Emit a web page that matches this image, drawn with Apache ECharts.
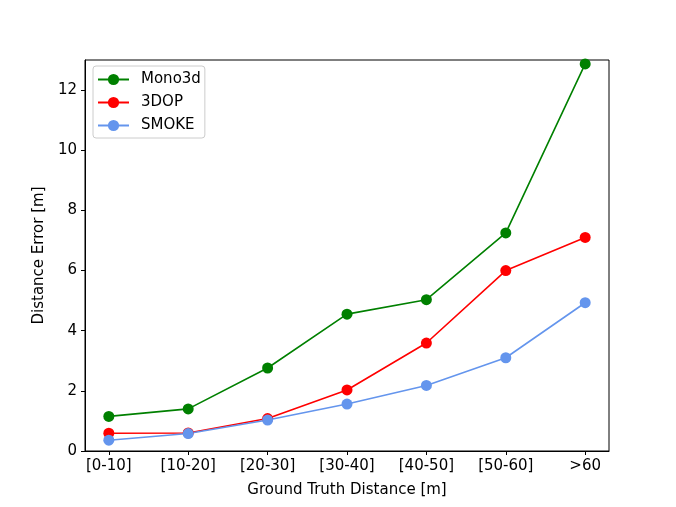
<!DOCTYPE html>
<html>
<head>
<meta charset="utf-8">
<script src="https://cdn.jsdelivr.net/npm/echarts@6/dist/echarts.min.js"></script>
<style>
  html, body { margin: 0; padding: 0; background: #fff; }
  #main { width: 676px; height: 507px; }
</style>
</head>
<body>
<div id="main"></div>
<script>
// 横轴类别
var categories = ['[0-10]', '[10-20]', '[20-30]', '[30-40]', '[40-50]', '[50-60]', '>60'];
// 各方法的距离误差
var mono3d = [1.15, 1.40, 2.76, 4.55, 5.03, 7.25, 12.87];
var dop3d = [0.59, 0.60, 1.08, 2.03, 3.59, 6.00, 7.10];
var smoke = [0.36, 0.58, 1.03, 1.56, 2.18, 3.10, 4.93];
var yTicks = [0, 2, 4, 6, 8, 10, 12];

var font = 'DejaVu Sans';

function pairs(arr) {
	return arr.map(function(v, i) {
		return [i, v];
	});
}

function makeSeries(name, arr, color) {
	return {
		name: name,
		type: 'line',
		data: pairs(arr),
		symbol: 'circle',
		symbolSize: 11,
		showAllSymbol: true,
		animation: false,
		itemStyle: { color: color },
		lineStyle: { color: color, width: 1.6 }
	};
}

var myChart = echarts.init(document.getElementById('main'));
var xIdx = categories.map(function(c, i) { return i; });

var option = {
	backgroundColor: '#fff',
	animation: false,
	grid: {
		left: 85, top: 60, right: 67, bottom: 56,
		show: true, borderColor: '#000', borderWidth: 1,
		backgroundColor: 'transparent'
	},
	legend: {
		orient: 'vertical',
		left: 93, top: 66,
		padding: [6, 4, 5, 4],
		itemGap: 8,
		itemWidth: 31,
		itemHeight: 14,
		borderColor: '#ccc',
		borderWidth: 1,
		borderRadius: 3,
		textStyle: { fontFamily: font, fontSize: 15, color: '#000', padding: [0, 0, 0, 7] },
		data: ['Mono3d', '3DOP', 'SMOKE']
	},
	xAxis: {
		type: 'value',
		min: -0.3,
		max: 6.3,
		name: 'Ground Truth Distance [m]',
		nameLocation: 'middle',
		nameGap: 32,
		nameTextStyle: { fontFamily: font, fontSize: 15, color: '#000' },
		splitLine: { show: false },
		axisLine: { show: true, onZero: false, lineStyle: { color: '#000', width: 1 } },
		axisTick: { show: true, customValues: xIdx, length: 4, inside: false, lineStyle: { color: '#000' } },
		axisLabel: {
			customValues: xIdx,
			margin: 8,
			fontFamily: font, fontSize: 15, color: '#000',
			formatter: function(v) { return categories[Math.round(v)]; }
		}
	},
	yAxis: {
		type: 'value',
		min: 0,
		max: 13,
		name: 'Distance Error [m]',
		nameLocation: 'middle',
		nameGap: 35,
		nameTextStyle: { fontFamily: font, fontSize: 15, color: '#000' },
		splitLine: { show: false },
		axisLine: { show: true, onZero: false, lineStyle: { color: '#000', width: 1 } },
		axisTick: { show: true, customValues: yTicks, length: 4, lineStyle: { color: '#000' } },
		axisLabel: {
			customValues: yTicks,
			margin: 8,
			fontFamily: font, fontSize: 15, color: '#000'
		}
	},
	series: [
		makeSeries('Mono3d', mono3d, '#008000'),
		makeSeries('3DOP', dop3d, '#ff0000'),
		makeSeries('SMOKE', smoke, '#6495ed')
	]
};
myChart.setOption(option);
</script>
</body>
</html>
